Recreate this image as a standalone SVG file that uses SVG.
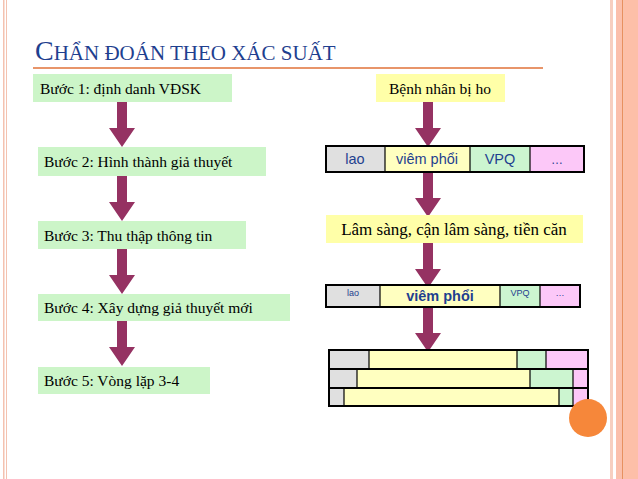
<svg xmlns="http://www.w3.org/2000/svg" width="638" height="479" viewBox="0 0 638 479">
<style>
.s{font-family:'Liberation Sans',sans-serif;fill:#1f3f8f}
.g{fill:#ccf5c8}
.y{fill:#ffffa8}
.c{stroke:#000;stroke-width:2;fill:none}
.l{stroke:#000;stroke-width:1.2}
</style>
<defs>
<path id="arr" fill="#953262" d="M-5,0 h10 v26 h8 l-13,19 l-13,-19 h8 z"/>
</defs>
<rect width="638" height="479" fill="#fff"/>
<rect x="3" y="0" width="1.5" height="479" fill="#f4c2b0"/>
<rect x="6" y="0" width="1" height="479" fill="#f4c2b0"/>
<rect x="610" y="0" width="3" height="479" fill="#f7cfc0"/>
<rect x="616" y="0" width="6" height="479" fill="#fbc0ac"/>
<rect x="622" y="0" width="1.5" height="479" fill="#e89060"/>
<rect x="623.5" y="0" width="14.5" height="479" fill="#fdbfa8"/>
<g id="title">
<text x="35" y="60" font-family="Liberation Serif,serif" fill="#1f3f8f" font-size="21"><tspan font-size="28">C</tspan>HẨN ĐOÁN THEO XÁC SUẤT</text>
<line x1="33" y1="68" x2="543" y2="68" stroke="#e8956a" stroke-width="2"/>
</g>
<g id="connectors">
<use href="#arr" x="122" y="102"/>
<use href="#arr" x="122" y="176"/>
<use href="#arr" x="122" y="249"/>
<use href="#arr" x="122" y="321"/>
<use href="#arr" x="428" y="102"/>
<use href="#arr" x="428" y="172"/>
<use href="#arr" x="428" y="243"/>
<use href="#arr" x="428" y="307"/>
</g>
<g font-family="Liberation Serif, serif" font-size="15.5">
<g id="b1"><rect class="g" x="33" y="74" width="199" height="28"/><text x="40" y="94">Bước 1: định danh VĐSK</text></g>
<g id="b2"><rect class="g" x="38" y="147" width="228" height="29"/><text x="44" y="167">Bước 2: Hình thành giả thuyết</text></g>
<g id="b3"><rect class="g" x="38" y="221" width="208" height="28"/><text x="44" y="241">Bước 3: Thu thập thông tin</text></g>
<g id="b4"><rect class="g" x="38" y="294" width="252" height="27"/><text x="44" y="313">Bước 4: Xây dựng giả thuyết mới</text></g>
<g id="b5"><rect class="g" x="38" y="367" width="172" height="27"/><text x="44" y="386">Bước 5: Vòng lặp 3-4</text></g>
<g id="bn"><rect class="y" x="376" y="74" width="129" height="28"/><text x="440" y="94" text-anchor="middle">Bệnh nhân bị ho</text></g>
<g id="ls"><rect class="y" x="326" y="215" width="257" height="28"/><text x="454" y="235" text-anchor="middle" font-size="17">Lâm sàng, cận lâm sàng, tiền căn</text></g>
</g>
<g id="row1">
<rect x="326" y="146" width="59" height="26" fill="#e0e0e0"/>
<rect x="385" y="146" width="85" height="26" fill="#ffffc0"/>
<rect x="470" y="146" width="60" height="26" fill="#ccf5d0"/>
<rect x="530" y="146" width="54" height="26" fill="#fcc8f8"/>
<line class="l" x1="385" y1="146" x2="385" y2="172"/><line class="l" x1="470" y1="146" x2="470" y2="172"/><line class="l" x1="530" y1="146" x2="530" y2="172"/>
<rect class="c" x="326" y="146" width="258" height="26"/>
<text class="s" font-size="14.5" x="355" y="164" text-anchor="middle">lao</text>
<text class="s" font-size="14.5" x="427" y="164" text-anchor="middle">viêm phổi</text>
<text class="s" font-size="14.5" x="500" y="164" text-anchor="middle">VPQ</text>
<text class="s" font-size="12" x="557" y="164" text-anchor="middle">…</text>
</g>
<g id="row2">
<rect x="326" y="285" width="54" height="22" fill="#e0e0e0"/>
<rect x="380" y="285" width="120" height="22" fill="#ffffc0"/>
<rect x="500" y="285" width="40" height="22" fill="#ccf5d0"/>
<rect x="540" y="285" width="40" height="22" fill="#fcc8f8"/>
<line class="l" x1="380" y1="285" x2="380" y2="307"/><line class="l" x1="500" y1="285" x2="500" y2="307"/><line class="l" x1="540" y1="285" x2="540" y2="307"/>
<rect class="c" x="326" y="285" width="254" height="22"/>
<text class="s" font-size="9" x="353" y="296" text-anchor="middle">lao</text>
<text class="s" font-size="14.5" font-weight="bold" x="440" y="301" text-anchor="middle">viêm phổi</text>
<text class="s" font-size="9" x="520" y="296" text-anchor="middle">VPQ</text>
<text class="s" font-size="9" x="560" y="296" text-anchor="middle">…</text>
</g>
<g id="stack">
<rect x="329" y="350" width="40" height="19" fill="#e0e0e0"/><rect x="369" y="350" width="148" height="19" fill="#ffffc0"/><rect x="517" y="350" width="29" height="19" fill="#ccf5d0"/><rect x="546" y="350" width="42" height="19" fill="#fcc8f8"/>
<rect x="329" y="369" width="28" height="19" fill="#e0e0e0"/><rect x="357" y="369" width="173" height="19" fill="#ffffc0"/><rect x="530" y="369" width="43" height="19" fill="#ccf5d0"/><rect x="573" y="369" width="15" height="19" fill="#fcc8f8"/>
<rect x="329" y="388" width="15" height="18" fill="#e0e0e0"/><rect x="344" y="388" width="215" height="18" fill="#ffffc0"/><rect x="559" y="388" width="14" height="18" fill="#ccf5d0"/><rect x="573" y="388" width="15" height="18" fill="#fcc8f8"/>
<line class="l" x1="369" y1="350" x2="369" y2="369"/><line class="l" x1="517" y1="350" x2="517" y2="369"/><line class="l" x1="546" y1="350" x2="546" y2="369"/>
<line class="l" x1="357" y1="369" x2="357" y2="388"/><line class="l" x1="530" y1="369" x2="530" y2="388"/><line class="l" x1="573" y1="369" x2="573" y2="388"/>
<line class="l" x1="344" y1="388" x2="344" y2="406"/><line class="l" x1="559" y1="388" x2="559" y2="406"/><line class="l" x1="573" y1="388" x2="573" y2="406"/>
<line class="c" x1="329" y1="369" x2="588" y2="369"/><line class="c" x1="329" y1="388" x2="588" y2="388"/>
<rect class="c" x="329" y="350" width="259" height="56"/>
</g>
<circle cx="588" cy="418" r="19" fill="#f6873a"/>
</svg>
